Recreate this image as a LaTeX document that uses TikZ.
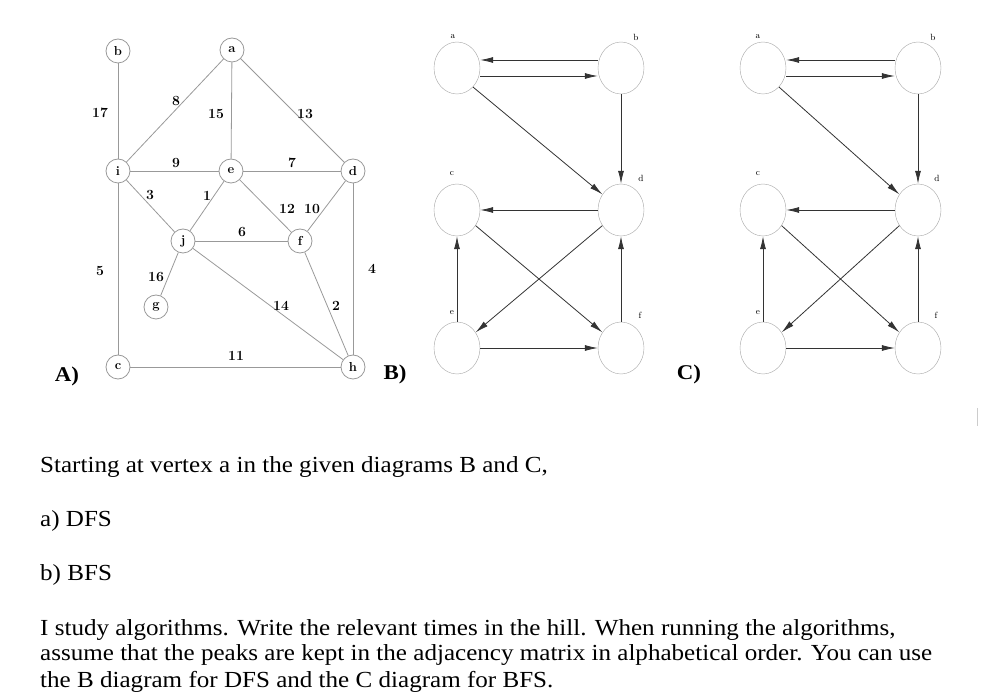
\documentclass[tikz,border=0pt]{standalone}
\usepackage{fontspec}
\newfontfamily\txtfont[FakeStretch=1.09]{Liberation Serif}
\usetikzlibrary{arrows.meta,shapes.geometric}
\begin{document}
\begin{tikzpicture}[x=1pt,y=-1pt,
  av/.style={circle,draw=gray!80,thick,minimum size=24pt,inner sep=0pt,font=\fontsize{13}{13}\selectfont\bfseries},
  ae/.style={draw=gray!80,thick},
  wl/.style={font=\fontsize{14}{14}\selectfont\bfseries,inner sep=1pt},
  bv/.style={ellipse,draw=gray!70,minimum width=46pt,minimum height=52pt,inner sep=0pt},
  bl/.style={font=\fontsize{9}{9}\selectfont,inner sep=0pt},
  ar/.style={draw=black!80,thick,-{Latex[length=13pt,width=6pt]}},
  tl/.style={font=\txtfont\fontsize{23}{23}\selectfont,anchor=base west,inner sep=0pt},
  pl/.style={font=\txtfont\fontsize{21}{21}\selectfont\bfseries,inner sep=0pt}]
\useasboundingbox (0,0) rectangle (997,700);
% Graph A
\node[av] (b) at (118,51) {b};
\node[av] (a) at (232,50) {a};
\node[av] (i) at (118,171) {i};
\node[av] (e) at (231,171) {e};
\node[av] (d) at (353,171) {d};
\node[av] (j) at (183,241) {j};
\node[av] (f) at (300,241) {f};
\node[av] (g) at (156,307) {g};
\node[av] (c) at (118,367) {c};
\node[av] (h) at (353,367) {h};
\draw[ae] (b)--(i); \draw[ae] (a)--(i); \draw[ae] (a)--(e); \draw[ae] (a)--(d);
\draw[ae] (i)--(e); \draw[ae] (e)--(d); \draw[ae] (i)--(j); \draw[ae] (e)--(j);
\draw[ae] (e)--(f); \draw[ae] (d)--(f); \draw[ae] (j)--(f); \draw[ae] (j)--(g);
\draw[ae] (i)--(c); \draw[ae] (j)--(h); \draw[ae] (f)--(h); \draw[ae] (d)--(h);
\draw[ae] (c)--(h);
\node[wl] (w17) at (100,113) {17}; \node[wl] (w8) at (176,101) {8};
\node[wl] (w15) at (216,114) {15}; \node[wl] (w13) at (305,114) {13};
\node[wl] (w9) at (176,163) {9}; \node[wl] (w7) at (292,163) {7};
\node[wl] (w3) at (150,195) {3}; \node[wl] (w1) at (207,196) {1};
\node[wl] (w12) at (287,209) {12}; \node[wl] (w10) at (312,209) {10};
\node[wl] (w6) at (242,232) {6}; \node[wl] (w5) at (100,271) {5};
\node[wl] (w16) at (156,277) {16}; \node[wl] (w4) at (372,269) {4};
\node[wl] (w14) at (281,306) {14}; \node[wl] (w2) at (336,306) {2};
\node[wl] (w11) at (236,356) {11};
\node[pl] (lA) at (67,376) {A)};
% Graph B
\node[bv] (Ba) at (457,68) {}; \node[bv] (Bb) at (621,68) {};
\node[bv] (Bc) at (457,210) {}; \node[bv] (Bd) at (621,210) {};
\node[bv] (Be) at (457,348) {}; \node[bv] (Bf) at (621,348) {};
\node[bl] at (453,37) {a}; \node[bl] at (636,37) {b};
\node[bl] at (452,174) {c}; \node[bl] at (641,178) {d};
\node[bl] at (452,313) {e}; \node[bl] at (640,315) {f};
\draw[ar] ([yshift=8pt]Bb.west)--([yshift=8pt]Ba.east);
\draw[ar] ([yshift=-8pt]Ba.east)--([yshift=-8pt]Bb.west);
\draw[ar] (Ba.-50)--(Bd.140);
\draw[ar] (Bb.south)--(Bd.north);
\draw[ar] (Bd.west)--(Bc.east);
\draw[ar] (Bd.-140)--(Be.40);
\draw[ar] (Bc.-40)--(Bf.140);
\draw[ar] (Be.north)--(Bc.south);
\draw[ar] (Bf.north)--(Bd.south);
\draw[ar] (Be.east)--(Bf.west);
\node[pl] (lB) at (395,374) {B)};
% Graph C
\node[bv] (Ca) at (763,68) {}; \node[bv] (Cb) at (918,68) {};
\node[bv] (Cc) at (763,210) {}; \node[bv] (Cd) at (918,210) {};
\node[bv] (Ce) at (763,348) {}; \node[bv] (Cf) at (918,348) {};
\node[bl] at (758,37) {a}; \node[bl] at (933,37) {b};
\node[bl] at (758,174) {c}; \node[bl] at (937,178) {d};
\node[bl] at (758,313) {e}; \node[bl] at (936,315) {f};
\draw[ar] ([yshift=8pt]Cb.west)--([yshift=8pt]Ca.east);
\draw[ar] ([yshift=-8pt]Ca.east)--([yshift=-8pt]Cb.west);
\draw[ar] (Ca.-50)--(Cd.140);
\draw[ar] (Cb.south)--(Cd.north);
\draw[ar] (Cd.west)--(Cc.east);
\draw[ar] (Cd.-140)--(Ce.40);
\draw[ar] (Cc.-40)--(Cf.140);
\draw[ar] (Ce.north)--(Cc.south);
\draw[ar] (Cf.north)--(Cd.south);
\draw[ar] (Ce.east)--(Cf.west);
\node[pl] (lC) at (689,374) {C)};
\draw[gray!40] (977,408)--(977,426);
% Text
\node[tl] (t1) at (40,473) {Starting at vertex a in the given diagrams B and C,};
\node[tl] (t2) at (40,527) {a) DFS};
\node[tl] (t3) at (40,580) {b) BFS};
\node[tl] (t4) at (40,635) {I study algorithms. Write the relevant times in the hill. When running the algorithms,};
\node[tl] (t5) at (40,660) {assume that the peaks are kept in the adjacency matrix in alphabetical order. You can use};
\node[tl] (t6) at (40,687) {the B diagram for DFS and the C diagram for BFS.};
\end{tikzpicture}
\end{document}
